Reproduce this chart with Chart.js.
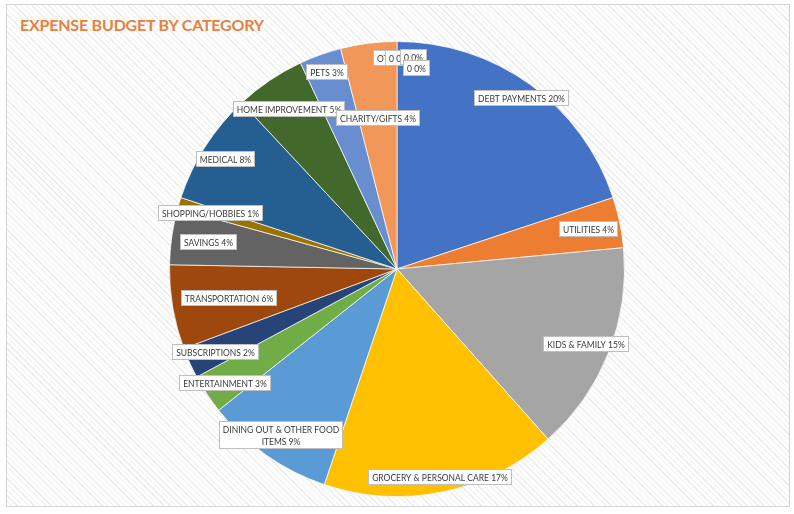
<!DOCTYPE html>
<html>
<head>
<meta charset="utf-8">
<script src="https://cdn.jsdelivr.net/npm/chart.js@4.4.1/dist/chart.umd.min.js"></script>
<style>
  html, body { margin: 0; padding: 0; background: #fff; }
  #frame {
    position: absolute; left: 6px; top: 4px; width: 782px; height: 501px;
    border: 1px solid #d4d4d4;
    background: repeating-linear-gradient(45deg, #ffffff 0px, #ffffff 3px, #ececec 3px, #ececec 4px);
  }
  #title {
    position: absolute; left: 20px; top: 15px; margin: 0;
    font: bold 16px Lato, sans-serif; color: #E8803F; letter-spacing: -0.2px;
  }
  #wrap { position: absolute; left: 0; top: 0; width: 794px; height: 514px; }
</style>
</head>
<body>
<div id="frame"></div>
<h1 id="title">EXPENSE BUDGET BY CATEGORY</h1>
<div id="wrap"><canvas id="pie"></canvas></div>
<script>
const categories = [
    'DEBT PAYMENTS', 'UTILITIES', 'KIDS & FAMILY', 'GROCERY & PERSONAL CARE',
    'DINING OUT & OTHER FOOD ITEMS', 'ENTERTAINMENT', 'SUBSCRIPTIONS', 'TRANSPORTATION',
    'SAVINGS', 'SHOPPING/HOBBIES', 'MEDICAL', 'HOME IMPROVEMENT', 'PETS', 'CHARITY/GIFTS',
    'OTHER', '0', '0', '0'
];
const budget = [20, 3.6, 15, 16.8, 9.2, 2.8, 2.2, 6, 4, 0.8, 8, 5, 3, 4, 0, 0, 0, 0];
const sliceColors = [
    '#4472C4', '#ED7D31', '#A5A5A5', '#FFC000', '#5B9BD5', '#70AD47', '#264478', '#9E480E',
    '#636363', '#997300', '#255E91', '#43682B', '#698ED0', '#F1975A', '#B7B7B7', '#FFCD33',
    '#7CAFDD', '#8CC168'
];

// how far out each label sits (fraction of radius), Excel "best fit" look
const labelRadius = [0.93, 0.86, 0.89, 0.93, 0.89, 0.91, 0.88, 0.75, 0.84, 0.86, 0.9, 0.85, 0.92, 0.67];
// zero slices pile up at the top; offsets of label left edge / centre from the top of the pie
const zeroLabelPos = [[-24, 16], [-12, 16], [3, 15], [6, 26]];

const total = budget.reduce((a, b) => a + b, 0);
const SX = 0.85; // squeeze Lato a bit so it reads like Calibri

function labelText(i) {
    return categories[i] + ' ' + Math.round(budget[i] / total * 100) + '%';
}

function textW(ctx, t) {
    return ctx.measureText(t).width * SX;
}

// only really long labels get wrapped, like Excel does
function wrapText(ctx, text, wrapAt, lineW) {
    if (textW(ctx, text) <= wrapAt) return [text];
    const words = text.split(' ');
    const lines = [];
    let cur = '';
    for (const w of words) {
        const test = cur ? cur + ' ' + w : w;
        if (textW(ctx, test) > lineW && cur) {
            lines.push(cur);
            cur = w;
        } else {
            cur = test;
        }
    }
    if (cur) lines.push(cur);
    return lines;
}

function drawBox(ctx, lines, cx, cy, leftAligned) {
    const lh = 12;
    let w = 0;
    lines.forEach(l => { w = Math.max(w, textW(ctx, l)); });
    const bw = Math.round(w + 7), bh = lines.length * lh + 3;
    const x = Math.round(leftAligned ? cx : cx - bw / 2) + 0.5;
    const y = Math.round(cy - bh / 2) + 0.5;
    ctx.fillStyle = '#ffffff';
    ctx.fillRect(x, y, bw, bh);
    ctx.strokeStyle = '#bfbfbf';
    ctx.lineWidth = 1;
    ctx.strokeRect(x, y, bw, bh);
    ctx.fillStyle = '#3a3a3a';
    ctx.textAlign = 'center';
    ctx.textBaseline = 'middle';
    lines.forEach((l, k) => {
        ctx.save();
        ctx.translate(x + bw / 2, y + 2 + lh / 2 + k * lh);
        ctx.scale(SX, 1);
        ctx.fillText(l, 0, 0);
        ctx.restore();
    });
}

const sliceLabels = {
    id: 'sliceLabels',
    afterDatasetsDraw(chart) {
        const ctx = chart.ctx;
        const arcs = chart.getDatasetMeta(0).data;
        ctx.save();
        ctx.font = '10px Lato, sans-serif';
        const full = textW(ctx, labelText(3));
        let z = 0;
        arcs.forEach((arc, i) => {
            const lines = wrapText(ctx, labelText(i), full + 4, full * 0.92);
            if (budget[i] === 0) {
                const p = zeroLabelPos[z++] || [0, 16];
                drawBox(ctx, lines, arc.x + p[0], arc.y - arc.outerRadius + p[1], true);
                return;
            }
            const mid = (arc.startAngle + arc.endAngle) / 2;
            const r = arc.outerRadius * (labelRadius[i] || 0.88);
            drawBox(ctx, lines, arc.x + Math.cos(mid) * r, arc.y + Math.sin(mid) * r, false);
        });
        ctx.restore();
    }
};

new Chart(document.getElementById('pie'), {
    type: 'pie',
    data: {
        labels: categories,
        datasets: [{
            data: budget,
            backgroundColor: sliceColors,
            borderColor: 'rgba(255, 255, 255, 0.7)',
            borderWidth: 1
        }]
    },
    options: {
        responsive: true,
        maintainAspectRatio: false,
        animation: false,
        layout: { padding: { left: 169, right: 169, top: 41, bottom: 17 } },
        plugins: {
            legend: { display: false },
            tooltip: { enabled: false }
        }
    },
    plugins: [sliceLabels]
});
</script>
</body>
</html>
